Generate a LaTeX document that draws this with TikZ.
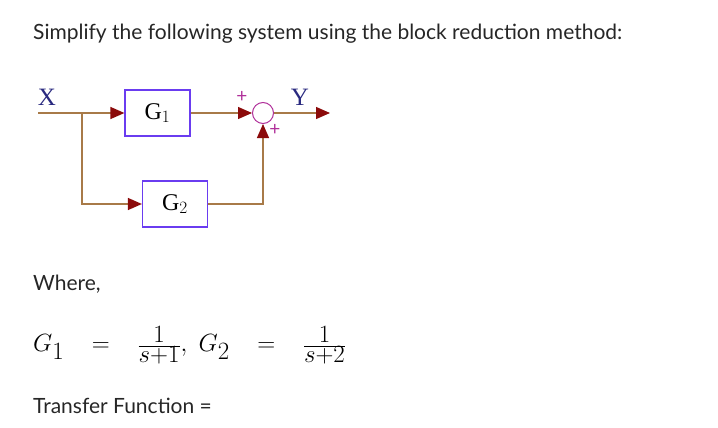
\documentclass[tikz,border=0pt]{standalone}
\usepackage{fontspec}
\setmainfont{Lato}
\newfontfamily\serifm{Liberation Serif}
\usetikzlibrary{arrows.meta}
\definecolor{wire}{HTML}{A87A48}
\definecolor{arr}{HTML}{8B0A0A}
\definecolor{boxc}{HTML}{6A3CF0}
\definecolor{sumc}{HTML}{B0309A}
\definecolor{lab}{HTML}{2A2A80}
\tikzset{
 blk/.style={draw=boxc,line width=1.2pt,minimum width=65pt,minimum height=46pt,inner sep=0pt,font=\serifm\fontsize{24}{26}\selectfont},
 w/.style={draw=wire,line width=1.3pt},
 ar/.style={w,-{Triangle[length=14pt,width=12pt,color=arr]}},
 txt/.style={anchor=base west,inner sep=0pt,text=black!85,font=\fontsize{21}{24}\selectfont}
}
\begin{document}
\begin{tikzpicture}[x=1pt,y=-1pt]
\useasboundingbox (0,0) rectangle (718,428);
\node[txt] (t) at (33,40) {Simplify the following system using the block reduction method:};
\node[blk] (g1) at (157.5,113) {G$_1$};
\node[blk] (g2) at (175,204) {G$_2$};
\node[circle,draw=sumc,line width=1pt,minimum size=21pt,inner sep=0pt] (s) at (263,113) {};
\coordinate (in) at (38,113);
\coordinate (br) at (82,113);
\coordinate (out) at (330,113);
\draw[w] (in) -- (br);
\draw[ar] (br) -- (g1.west);
\draw[ar] (br) |- (g2.west);
\draw[ar] (g1.east) -- (s.west);
\draw[ar] (g2.east) -| (s.south);
\draw[ar] (s.east) -- (out);
\node[text=lab,font=\serifm\fontsize{25}{26}\selectfont] (x) at (47,97) {X};
\node[text=lab,font=\serifm\fontsize{25}{26}\selectfont] (y) at (300,97) {Y};
\node[text=sumc,font=\fontsize{19}{20}\selectfont] (p1) at (242,97) {+};
\node[text=sumc,font=\fontsize{19}{20}\selectfont] (p2) at (275,130) {+};
\node[txt] (wh) at (33,290) {Where,};
\node[anchor=west,inner sep=0pt,font=\fontsize{34}{38}\selectfont] (eq) at (33,345) {$G_1\;\;\;=\;\;\;\frac{1}{s+1},\;G_2\;\;\;=\;\;\;\frac{1}{s+2}$};
\node[txt] (tf) at (33,413) {Transfer Function =};
\end{tikzpicture}
\end{document}
